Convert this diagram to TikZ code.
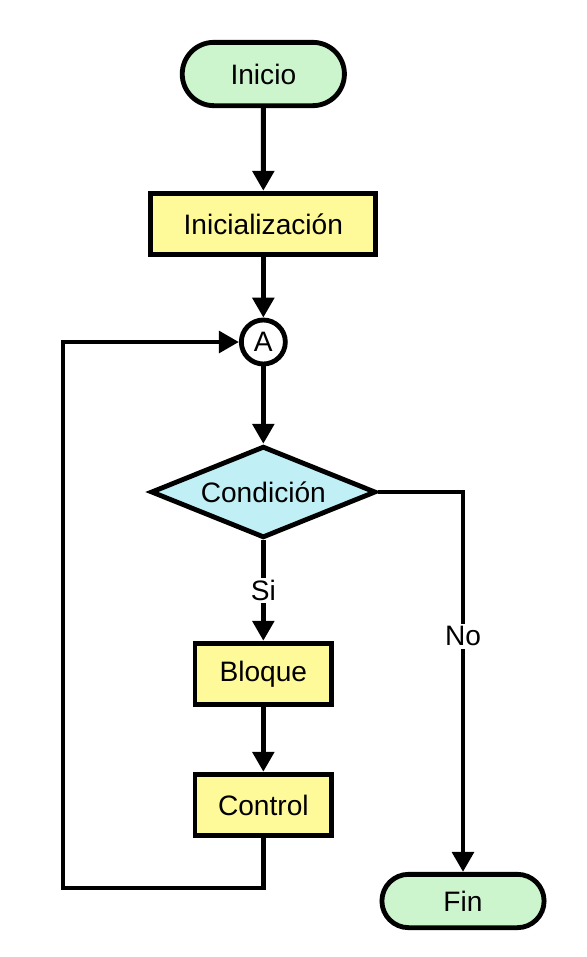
\documentclass[tikz,border=0pt]{standalone}
\usepackage{fontspec}
\setmainfont{Liberation Sans}
\usetikzlibrary{shapes.geometric,shapes.misc,arrows.meta}

\definecolor{verde}{RGB}{204,245,206}
\definecolor{amarillo}{RGB}{255,250,153}
\definecolor{celeste}{RGB}{192,240,246}

\def\xC{7.9}
\def\xF{13.89}

\begin{document}
\begin{tikzpicture}[
    line width=0.145cm,
    every node/.style={font=\fontsize{24}{28}\selectfont},
    flecha/.style={-{Triangle[length=0.6cm,width=0.64cm]}},
    terminal/.style={shape=rounded rectangle, draw=black, fill=verde, minimum width=5.1cm, minimum height=1.9cm},
    proceso/.style={shape=rectangle, draw=black, fill=amarillo, minimum height=1.85cm},
    conector/.style={shape=circle, draw=black, fill=white, minimum size=1.32cm, inner sep=0pt},
    decision/.style={shape=diamond, draw=black, fill=celeste, aspect=2.4, minimum width=6.75cm, minimum height=2.75cm, inner sep=0pt},
    etiqueta/.style={fill=white, inner sep=2pt}
  ]
    \useasboundingbox (0,0) rectangle (17.61,-28.71);

    %%   (lable)  (x, y)     {\text}
    \node[terminal]                      (Ini)  at (\xC,  -2.22) {Inicio};
    \node[proceso, minimum width=6.75cm] (Inz)  at (\xC,  -6.72) {Inicialización};
    \node[conector]                      (A)    at (\xC, -10.26) {A};
    \node[decision]                      (Cond) at (\xC, -14.76) {Condición};
    \node[proceso, minimum width=4.1cm]  (Blq)  at (\xC, -20.22) {Bloque};
    \node[proceso, minimum width=4.1cm]  (Ctrl) at (\xC, -24.15) {Control};
    \node[terminal, minimum height=1.6cm] (Fin) at (\xF, -27.03) {Fin};

    \coordinate (Ret) at (1.89, -26.64);

    \path[flecha] (Ini)  edge (Inz);
    \path[flecha] (Inz)  edge (A);
    \path[flecha] (A)    edge (Cond);
    \path[flecha] (Cond) edge node[etiqueta] {Si} (Blq);
    \path[flecha] (Blq)  edge (Ctrl);
    %
    \draw[flecha] (Cond.east) -| node[etiqueta, pos=0.69] {No} (Fin.north);
    \draw[flecha] (Ctrl.south) |- (Ret) |- (A.west);

  \end{tikzpicture}
\end{document}
